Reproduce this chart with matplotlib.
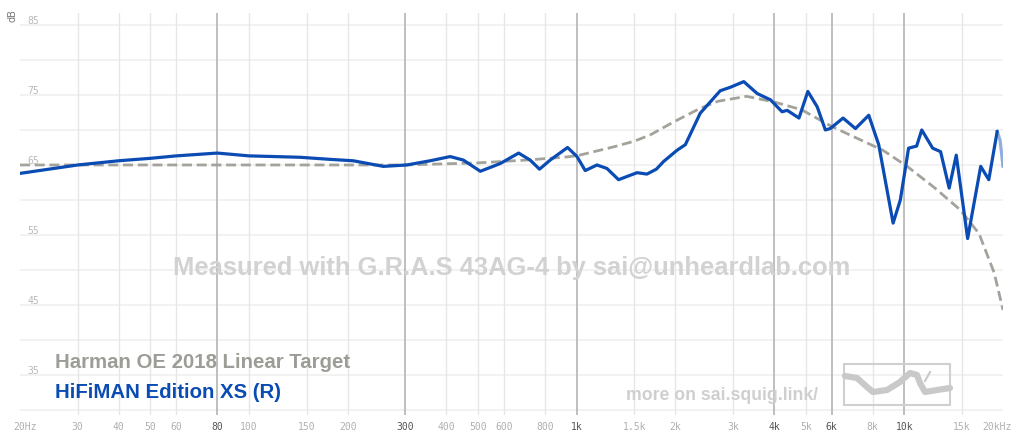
import numpy as np
import matplotlib.pyplot as plt
import matplotlib.transforms as mtransforms
from matplotlib.patches import Rectangle
from matplotlib.lines import Line2D

# measured response (Hz, dB)
freq = [20, 30, 40, 50, 60, 80, 100, 143, 177, 208, 257, 303, 357, 411, 451, 508, 584, 665,
        721, 770, 830, 938, 1002, 1062, 1153, 1237, 1342, 1528, 1638, 1750, 1842, 2024, 2146,
        2383, 2742, 2945, 3235, 3556, 3904, 4234, 4390, 4768, 5075, 5421, 5740, 5940, 6500,
        7092, 7786, 8350, 9240, 9720, 10300, 10900, 11300, 12200, 12900, 13700, 14400, 15600,
        17100, 18100, 19200]
resp = [63.8, 65.0, 65.6, 65.95, 66.3, 66.7, 66.3, 66.1, 65.8, 65.6, 64.8, 65.0, 65.6, 66.2,
        65.7, 64.1, 65.2, 66.7, 65.7, 64.4, 65.7, 67.5, 66.2, 64.2, 65.0, 64.5, 62.9, 63.9,
        63.7, 64.4, 65.5, 67.1, 67.9, 72.4, 75.6, 76.1, 76.9, 75.2, 74.3, 72.6, 72.8, 71.7,
        75.5, 73.3, 70.0, 70.2, 71.7, 70.2, 72.1, 67.9, 56.7, 60.0, 67.4, 67.7, 70.0, 67.4,
        66.9, 61.7, 66.4, 54.5, 64.8, 62.9, 69.8]
fade_freq = [19200, 19600, 20000]
fade_resp = [69.8, 68.5, 64.8]

# Harman OE 2018 target
tfreq = [20, 100, 250, 300, 500, 700, 910, 1000, 1300, 1500, 1678, 1950, 2383, 2700, 3300,
         4000, 4850, 6000, 8600, 10200, 12400, 14800, 16900, 18800, 20000]
tresp = [65.0, 65.0, 65.0, 65.0, 65.3, 65.7, 66.1, 66.3, 67.6, 68.4, 69.3, 71.0, 73.1, 74.1,
         74.8, 74.0, 72.9, 70.5, 67.1, 64.8, 61.7, 58.6, 55.2, 49.6, 44.3]

major_ticks = [80, 300, 1000, 4000, 6000, 10000]
minor_ticks = [20, 30, 40, 50, 60, 100, 150, 200, 400, 500, 600, 800, 1500, 2000, 3000,
               5000, 8000, 15000, 20000]
tick_names = {20: "20Hz", 30: "30", 40: "40", 50: "50", 60: "60", 80: "80", 100: "100",
              150: "150", 200: "200", 300: "300", 400: "400", 500: "500", 600: "600",
              800: "800", 1000: "1k", 1500: "1.5k", 2000: "2k", 3000: "3k", 4000: "4k",
              5000: "5k", 6000: "6k", 8000: "8k", 10000: "10k", 15000: "15k", 20000: "20kHz"}
db_grid = list(range(30, 90, 5))
db_labels = [85, 75, 65, 55, 45, 35]

BLUE = "#0a4bb4"
GRAY = "#a3a39c"

W, H = 1022, 442
fig = plt.figure(figsize=(W / 100, H / 100), dpi=100, facecolor="white")
ax = fig.add_axes([20 / W, 1 - 415 / H, 983 / W, 402 / H])
ax.set_xscale("log")
ax.set_xlim(20, 20000)
ax.set_ylim(29.3, 86.7)
for s in ax.spines.values():
    s.set_visible(False)

for d in db_grid:
    ax.axhline(d, color="#f2f2f2", lw=1.4, zorder=0)
for f in minor_ticks[1:-1]:
    ax.axvline(f, color="#e6e6e6", lw=1.0, zorder=0)
for f in major_ticks:
    ax.axvline(f, color="#b4b4b4", lw=1.2, zorder=0)

ax.set_yticks([])
ax.minorticks_off()
ticks = sorted(major_ticks + minor_ticks)
ax.set_xticks(ticks)
ax.set_xticklabels([tick_names[t] for t in ticks], family="DejaVu Sans Mono", fontsize=7)
ax.tick_params(axis="x", length=0, pad=5)
labs = ax.get_xticklabels()
for t, lab in zip(ticks, labs):
    lab.set_color("#555555" if t in major_ticks else "#b0b0b0")
# edge labels are pulled inward a little
labs[0].set_transform(labs[0].get_transform() + mtransforms.ScaledTranslation(5 / 100, 0, fig.dpi_scale_trans))
labs[-1].set_transform(labs[-1].get_transform() + mtransforms.ScaledTranslation(-6 / 100, 0, fig.dpi_scale_trans))

for d in db_labels:
    ax.text(21.1, d - 0.15, str(d), fontsize=7, color="#b8b8b8", family="DejaVu Sans Mono",
            ha="left", va="bottom")
fig.text(12 / W, 1 - 16 / H, "dB", rotation=90, fontsize=7, color="#777777",
         ha="center", va="center")

ax.text(0.5, 0.365, "Measured with G.R.A.S 43AG-4 by sai@unheardlab.com",
        transform=ax.transAxes, fontsize=18.4, fontweight="bold", color="#d2d2d2",
        family="Liberation Sans", ha="center", va="center", zorder=1)

ax.plot(tfreq, tresp, color=GRAY, lw=2.0, dashes=(3.6, 1.7), zorder=2)
ax.plot(freq, resp, color=BLUE, lw=2.3, zorder=3, solid_capstyle="round", solid_joinstyle="round")
ax.plot(fade_freq, fade_resp, color=BLUE, lw=2.3, alpha=0.45, zorder=3)

fig.text(55 / W, 1 - 363 / H, "Harman OE 2018 Linear Target", fontsize=14.7, fontweight="bold",
         color="#9d9d97", family="Liberation Sans", ha="left", va="center")
fig.text(55 / W, 1 - 392 / H, "HiFiMAN Edition XS (R)", fontsize=14.7, fontweight="bold",
         color=BLUE, family="Liberation Sans", ha="left", va="center")
fig.text(818 / W, 1 - 395 / H, "more on sai.squig.link/", fontsize=12.7, fontweight="bold",
         color="#cfcfcf", family="Liberation Sans", ha="right", va="center")

# logo
fig.patches.append(Rectangle((844 / W, 1 - 405 / H), 106 / W, 41 / H, transform=fig.transFigure,
                             fill=False, ec="#d0d0d0", lw=1.5))
lx = [845, 857, 867, 873, 887, 900, 910, 917, 920, 925, 937, 950]
ly = [376, 378, 387, 392, 390, 382, 373, 375, 383, 392, 390, 388]
fig.lines.append(Line2D([x / W for x in lx], [1 - y / H for y in ly], transform=fig.transFigure,
                        color="#c9c9c9", lw=4.5, solid_capstyle="round", solid_joinstyle="round"))
fig.lines.append(Line2D([925 / W, 930 / W], [1 - 381 / H, 1 - 372 / H], transform=fig.transFigure,
                        color="#c9c9c9", lw=1.5))

fig.savefig("out.png", dpi=100)
